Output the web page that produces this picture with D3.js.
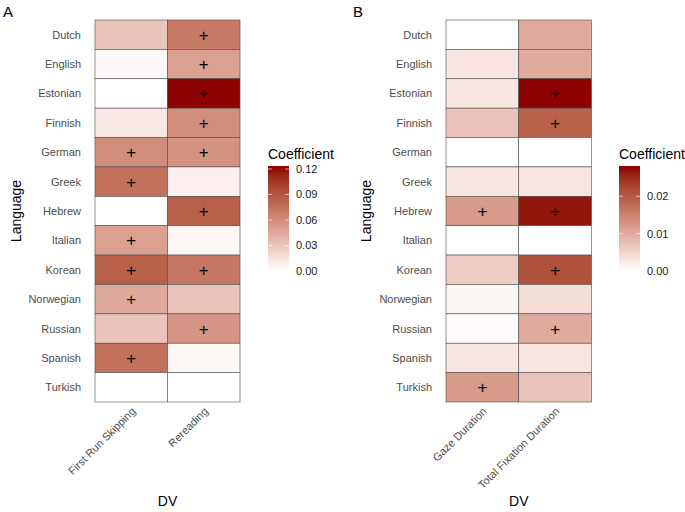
<!DOCTYPE html>
<html><head><meta charset="utf-8">
<script src="https://cdn.jsdelivr.net/npm/d3@7"></script>
<style>
body{margin:0;background:#fff;}
text{font-family:"Liberation Sans",Arial,sans-serif;}
</style></head>
<body>
<svg id="chart" width="685" height="512"></svg>
<script>
const languages = ["Dutch","English","Estonian","Finnish","German","Greek","Hebrew","Italian","Korean","Norwegian","Russian","Spanish","Turkish"];

const dvA = ["First Run Skipping","Rereading"];
const skipValues   = [0.030,0.003,0.000,0.012,0.060,0.075,0.000,0.050,0.085,0.045,0.030,0.075,0.000];
const rereadValues = [0.070,0.050,0.123,0.060,0.057,0.008,0.085,0.004,0.072,0.030,0.055,0.004,0.000];
const skipSig   = [0,0,0,0,1,1,0,1,1,1,0,1,0];
const rereadSig = [1,1,1,1,1,0,1,0,1,0,1,0,0];
const ticksA = [0.00,0.03,0.06,0.09,0.12];
const maxA = 0.1235;

const dvB = ["Gaze Duration","Total Fixation Duration"];
const gazeValues = [0.000,0.003,0.003,0.007,0.000,0.003,0.012,0.000,0.006,0.001,0.0005,0.003,0.012];
const tfdValues  = [0.010,0.010,0.028,0.019,0.000,0.003,0.027,0.000,0.021,0.004,0.010,0.003,0.007];
const gazeSig = [0,0,0,0,0,0,1,0,0,0,0,0,1];
const tfdSig  = [0,0,1,1,0,0,1,0,1,0,1,0,0];
const ticksB = [0.00,0.01,0.02];
const maxB = 0.0281;

const svg = d3.select("#chart");

function panel(opts){
  const {tag, tagX, x0, x1, y0, y1, dvs, vals, sigs, max, ticks, legX, labelX} = opts;
  const g = svg.append("g");
  const color = d3.scaleLinear().domain([0,max]).range(["#ffffff","#8b0000"]).interpolate(d3.interpolateLab).clamp(true);
  const x = d3.scaleBand().domain(dvs).range([x0,x1]);
  const y = d3.scaleBand().domain(languages).range([y0,y1]);

  const cells = [];
  dvs.forEach((dv,j)=>languages.forEach((l,i)=>cells.push({dv, lang:l, v:vals[j][i], s:sigs[j][i]})));

  g.selectAll("rect.cell").data(cells).join("rect")
    .attr("x",d=>x(d.dv)).attr("y",d=>y(d.lang))
    .attr("width",x.bandwidth()).attr("height",y.bandwidth())
    .attr("fill",d=>color(d.v))
    .attr("stroke","#4d4d4d").attr("stroke-width",0.6);

  g.selectAll("text.plus").data(cells.filter(d=>d.s)).join("text")
    .attr("x",d=>x(d.dv)+x.bandwidth()/2)
    .attr("y",d=>y(d.lang)+y.bandwidth()/2+6)
    .attr("text-anchor","middle").attr("font-size",17).attr("fill","#000")
    .text("+");

  g.selectAll("text.ylab").data(languages).join("text")
    .attr("x",labelX).attr("y",d=>y(d)+y.bandwidth()/2+4)
    .attr("text-anchor","end").attr("font-size",11).attr("fill","#4d4d4d").text(d=>d);

  g.selectAll("text.xlab").data(dvs).join("text")
    .attr("transform",d=>`translate(${x(d)+x.bandwidth()/2+5},${y1+10}) rotate(-45)`)
    .attr("text-anchor","end").attr("font-size",11).attr("fill","#4d4d4d").text(d=>d);

  g.append("text").attr("x",(x0+x1)/2).attr("y",506).attr("text-anchor","middle")
    .attr("font-size",14).attr("fill","#000").text("DV");
  g.append("text").attr("transform",`translate(${tagX+18},${(y0+y1)/2}) rotate(-90)`)
    .attr("text-anchor","middle").attr("font-size",14).attr("fill","#000").text("Language");
  g.append("text").attr("x",tagX).attr("y",17).attr("font-size",15).attr("fill","#000").text(tag);

  const lt = 166, lb = 271, lw = 21;
  const ls = d3.scaleLinear().domain([0,max]).range([lb,lt]);
  const gradId = "grad"+tag;
  const grad = svg.append("defs").append("linearGradient").attr("id",gradId)
    .attr("x1","0").attr("y1","1").attr("x2","0").attr("y2","0");
  d3.range(0,1.0001,0.1).forEach(t=>grad.append("stop").attr("offset",t).attr("stop-color",color(t*max)));
  g.append("text").attr("x",legX).attr("y",159).attr("font-size",14).attr("fill","#000").text("Coefficient");
  g.append("rect").attr("x",legX).attr("y",lt).attr("width",lw).attr("height",lb-lt).attr("fill",`url(#${gradId})`);
  ticks.forEach(t=>{
    g.append("line").attr("x1",legX).attr("x2",legX+4).attr("y1",ls(t)).attr("y2",ls(t)).attr("stroke","#fff").attr("stroke-width",0.6);
    g.append("line").attr("x1",legX+lw-4).attr("x2",legX+lw).attr("y1",ls(t)).attr("y2",ls(t)).attr("stroke","#fff").attr("stroke-width",0.6);
    g.append("text").attr("x",legX+lw+7).attr("y",ls(t)+4).attr("font-size",11).attr("fill","#1a1a1a").text(t.toFixed(2));
  });
}

panel({tag:"A", tagX:3, x0:95, x1:240, y0:20, y1:402, dvs:dvA,
  vals:[skipValues,rereadValues], sigs:[skipSig,rereadSig], max:maxA, ticks:ticksA, legX:268, labelX:81});
panel({tag:"B", tagX:353, x0:446, x1:591.5, y0:20, y1:402, dvs:dvB,
  vals:[gazeValues,tfdValues], sigs:[gazeSig,tfdSig], max:maxB, ticks:ticksB, legX:619, labelX:432});
</script>
</body></html>
